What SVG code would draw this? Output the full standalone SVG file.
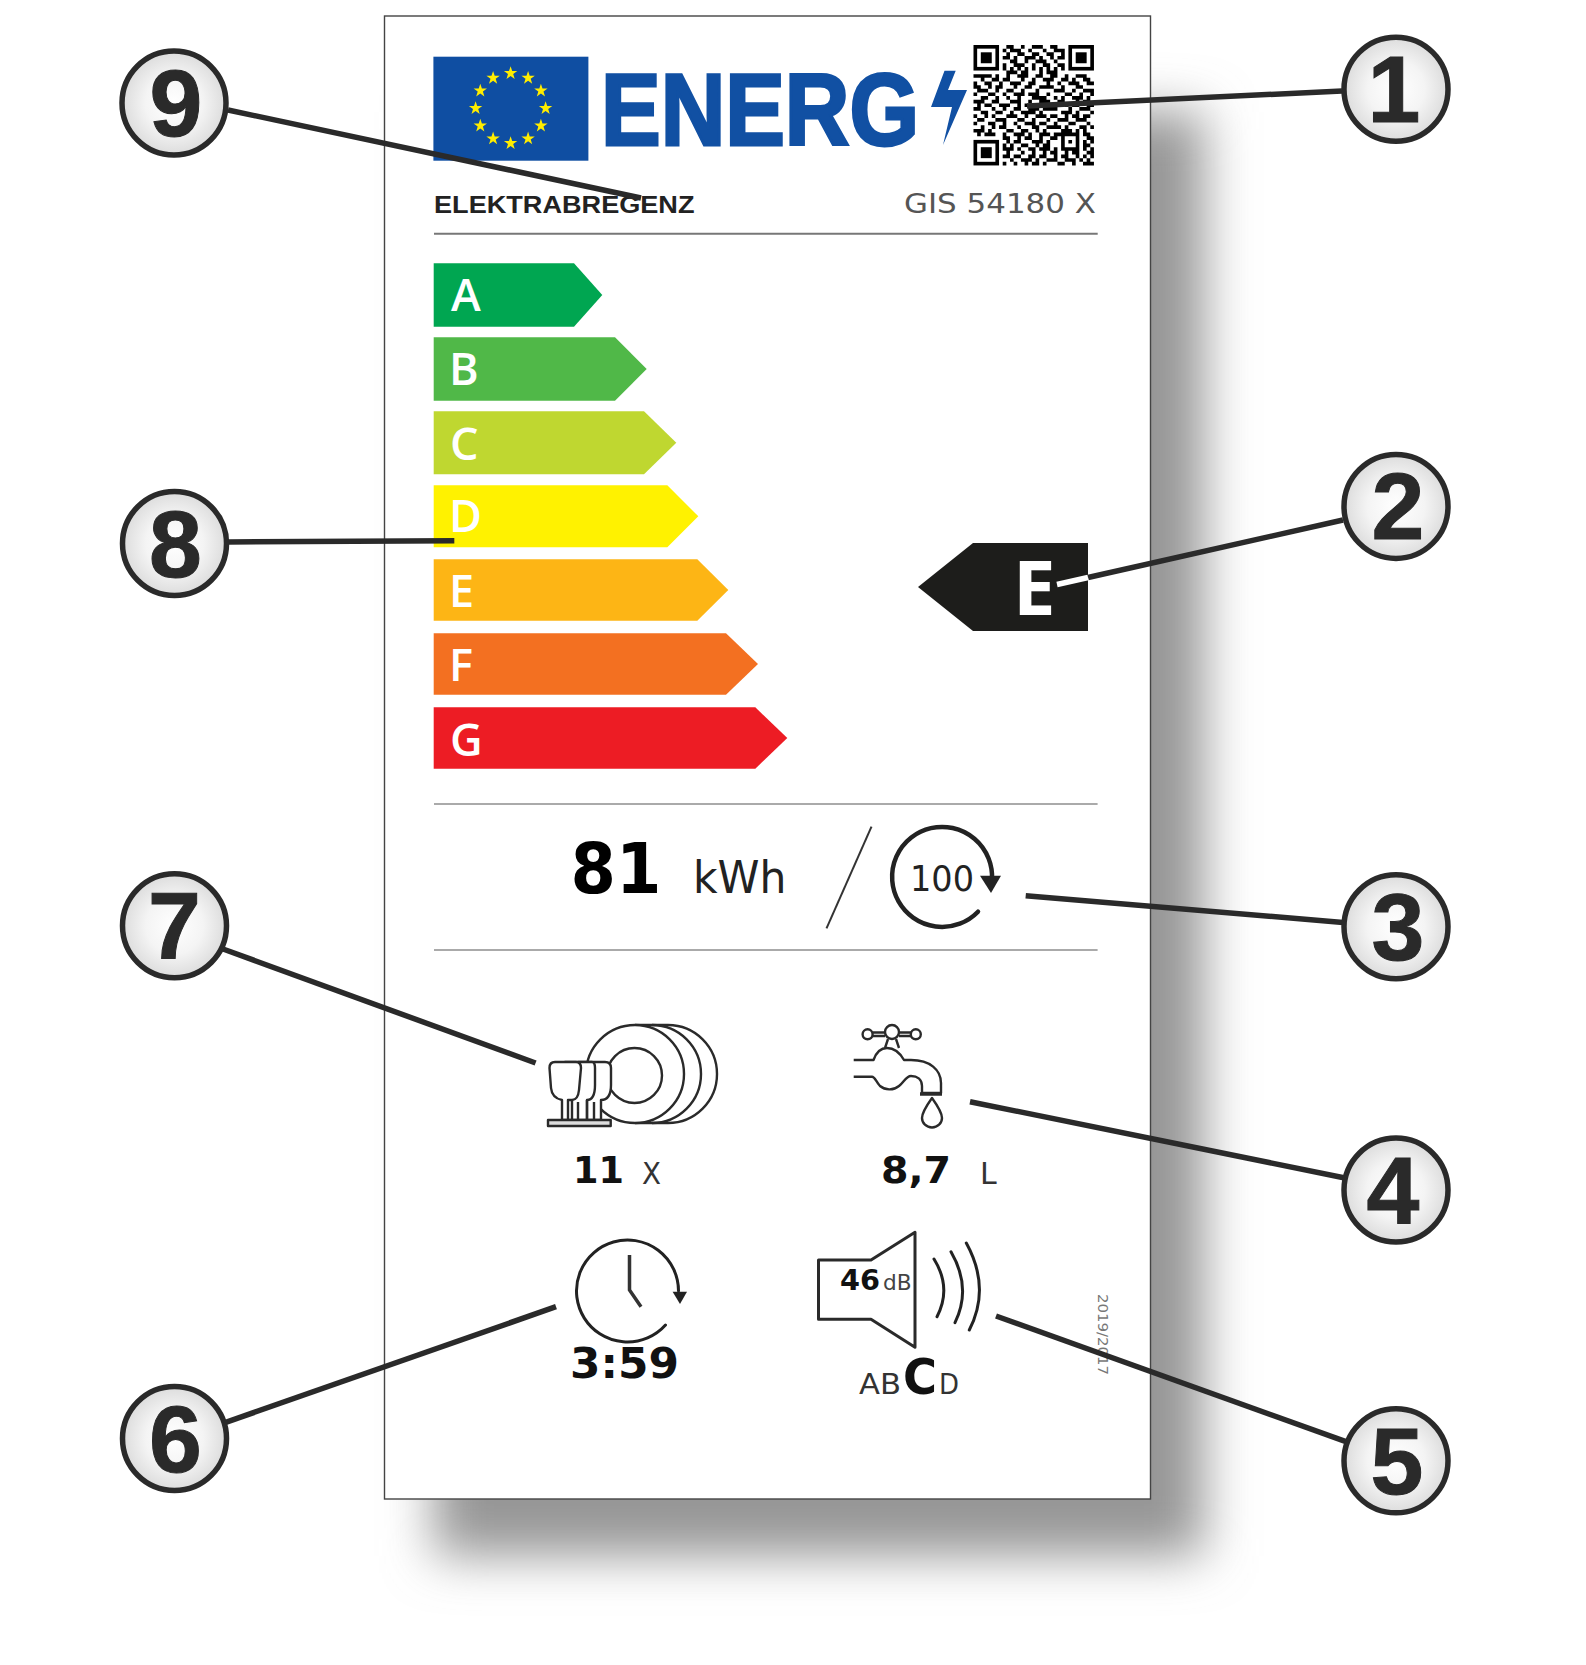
<svg xmlns="http://www.w3.org/2000/svg" xmlns:xlink="http://www.w3.org/1999/xlink" width="1586" height="1665" viewBox="0 0 1586 1665">
<style>
.dj{font-family:"DejaVu Sans",sans-serif}
.djb{font-family:"DejaVu Sans",sans-serif;font-weight:700}
.bar{font-family:"Open Sans",sans-serif;font-weight:600;font-size:45px;fill:#fff}
.num{font-family:"Liberation Sans",Arial,sans-serif;font-weight:700;font-size:95px;fill:#2a2a2a;stroke:#2a2a2a;stroke-width:1;text-anchor:middle}
.bub{fill:url(#bub);stroke:#2a2a2a;stroke-width:5.5}
.lead{stroke:#2a2a2a;stroke-width:5.5;fill:none}
.sep{stroke:#aaa;stroke-width:2}
.ico{fill:none;stroke:#222;stroke-width:3;stroke-linecap:round;stroke-linejoin:round}
.thin{fill:none;stroke:#2a2a2a;stroke-width:2.4;stroke-linejoin:round}
</style>
<defs>
<radialGradient id="bub"><stop offset="0" stop-color="#fff"/><stop offset=".55" stop-color="#f4f4f4"/><stop offset="1" stop-color="#dcdcdc"/></radialGradient>
<filter id="blur" x="-20%" y="-20%" width="140%" height="140%"><feGaussianBlur stdDeviation="25"/></filter>
<polygon id="star" fill="#ffed00" points="0,-7 1.6,-2.2 6.7,-2.2 2.6,.8 4.1,5.7 0,2.7 -4.1,5.7 -2.6,.8 -6.7,-2.2 -1.6,-2.2"/>
<g id="finder"><rect x=".5" y=".5" width="6" height="6" fill="none" stroke="#000" stroke-width="1"/><rect x="2" y="2" width="3" height="3" fill="#000"/></g>
</defs>
<rect width="1586" height="1665" fill="#fff"/>
<g id="label">
<rect id="shadow" x="434" y="112" width="770" height="1444" fill="#969696" filter="url(#blur)"/>
<rect id="sheet" x="384.5" y="16" width="766" height="1483" fill="#fff" stroke="#444" stroke-width="1.4"/>
</g>
<g id="flag">
<rect x="433.4" y="56.7" width="155" height="104" fill="#0f4ea2"/>
<use href="#star" x="510.6" y="73.3"/><use href="#star" x="528.1" y="78"/><use href="#star" x="540.9" y="90.8"/><use href="#star" x="545.6" y="108.3"/><use href="#star" x="540.9" y="125.8"/><use href="#star" x="528.1" y="138.6"/><use href="#star" x="510.6" y="143.3"/><use href="#star" x="493.1" y="138.6"/><use href="#star" x="480.3" y="125.8"/><use href="#star" x="475.6" y="108.3"/><use href="#star" x="480.3" y="90.8"/><use href="#star" x="493.1" y="78"/>
</g>
<g id="energy-logo">
<text x="601" y="145" font-family="Liberation Sans,Arial,sans-serif" font-weight="700" font-size="102" fill="#1150a3" stroke="#1150a3" stroke-width="3" textLength="318" lengthAdjust="spacingAndGlyphs">ENERG</text>
<polygon fill="#1150a3" points="944.5,70.7 955.7,70.7 948,90 967,90 943,145 952,107 931,107"/>
</g>
<g id="qr" transform="translate(973.5 45) scale(3.65)">
<use href="#finder"/><use href="#finder" x="26"/><use href="#finder" y="26"/>
<path transform="translate(0 .5)" fill="none" stroke="#000" stroke-width="1" d="M9 0h2M13 0h1M16 0h3M21 0h2M8 1h1M10 1h3M15 1h1M19 1h1M22 1h3M9 2h1M12 2h2M16 2h2M20 2h2M24 2h1M8 3h2M11 3h1M14 3h3M18 3h1M21 3h1M23 3h2M10 4h2M14 4h1M17 4h3M22 4h1M8 5h1M11 5h3M16 5h1M19 5h2M23 5h2M8 6h1M10 6h1M12 6h1M14 6h1M16 6h1M18 6h1M20 6h1M22 6h1M24 6h1M9 7h3M13 7h2M18 7h1M20 7h3M0 8h5M6 8h1M9 8h1M12 8h3M17 8h2M21 8h2M25 8h1M28 8h3M2 9h1M5 9h2M8 9h2M13 9h1M16 9h1M19 9h3M24 9h2M27 9h1M30 9h2M0 10h1M3 10h2M7 10h1M10 10h3M15 10h2M20 10h1M23 10h1M26 10h3M31 10h2M0 11h2M4 11h1M6 11h2M11 11h1M14 11h2M18 11h4M24 11h1M28 11h2M1 12h3M6 12h1M9 12h2M13 12h1M17 12h1M22 12h3M27 12h1M30 12h3M0 13h1M4 13h2M8 13h1M11 13h3M15 13h3M20 13h1M25 13h2M29 13h1M32 13h1M2 14h2M6 14h1M9 14h1M12 14h1M16 14h4M22 14h1M24 14h1M27 14h3M31 14h1M0 15h3M5 15h2M10 15h3M15 15h1M18 15h3M23 15h2M28 15h1M30 15h2M1 16h1M3 16h2M7 16h3M12 16h1M14 16h1M17 16h2M21 16h2M25 16h1M27 16h2M31 16h2M0 17h2M5 17h1M8 17h1M11 17h2M15 17h3M19 17h4M26 17h1M29 17h3M2 18h2M6 18h2M10 18h1M13 18h4M18 18h1M24 18h3M28 18h1M32 18h1M0 19h1M3 19h1M5 19h1M9 19h3M14 19h1M17 19h3M21 19h2M25 19h1M27 19h2M30 19h2M1 20h2M6 20h3M12 20h2M16 20h1M20 20h1M23 20h3M28 20h3M0 21h1M4 21h2M8 21h1M11 21h1M14 21h3M18 21h2M22 21h1M26 21h2M31 21h1M2 22h1M5 22h1M7 22h2M12 22h1M16 22h2M20 22h4M25 22h1M29 22h2M32 22h1M0 23h3M4 23h1M9 23h2M13 23h2M17 23h1M19 23h1M24 23h3M28 23h1M30 23h1M1 24h1M3 24h3M8 24h1M11 24h3M15 24h1M18 24h3M22 24h2M24 24h5M30 24h2M8 25h2M12 25h1M14 25h2M18 25h1M21 25h2M24 25h1M28 25h1M31 25h2M9 26h1M11 26h2M16 26h3M20 26h1M24 26h1M26 26h1M28 26h1M30 26h1M32 26h1M8 27h1M10 27h1M13 27h2M17 27h1M19 27h2M24 27h1M28 27h1M30 27h2M8 28h3M12 28h1M15 28h2M18 28h3M22 28h1M24 28h5M30 28h1M32 28h1M9 29h1M13 29h1M16 29h1M19 29h1M21 29h2M25 29h1M27 29h2M31 29h2M8 30h2M11 30h2M15 30h2M18 30h2M22 30h1M24 30h2M28 30h1M30 30h1M32 30h1M10 31h1M13 31h3M17 31h1M20 31h3M25 31h3M29 31h1M31 31h1M8 32h1M11 32h1M14 32h1M16 32h2M19 32h1M23 32h2M27 32h1M30 32h3"/>
</g>
<g id="supplier">
<text x="434" y="212.7" font-family="Liberation Sans,Arial,sans-serif" font-weight="700" font-size="24" fill="#222" textLength="260.5" lengthAdjust="spacingAndGlyphs">ELEKTRABREGENZ</text>
<text class="dj" x="904" y="213" font-size="27" fill="#555" textLength="192" lengthAdjust="spacingAndGlyphs">GIS 54180 X</text>
<line x1="434" y1="233.7" x2="1097.7" y2="233.7" stroke="#777" stroke-width="2"/>
</g>
<g id="scale">
<g id="bar-a"><polygon fill="#00a651" points="433.7,263.3 574,263.3 602.3,295 574,326.7 433.7,326.7"/><text class="bar" x="451" y="311">A</text></g>
<g id="bar-b"><polygon fill="#50b848" points="433.7,337.3 615,337.3 646.7,369 615,400.7 433.7,400.7"/><text class="bar" x="449" y="385">B</text></g>
<g id="bar-c"><polygon fill="#bfd730" points="433.7,411.3 644,411.3 676.3,442.8 644,474.3 433.7,474.3"/><text class="bar" x="450" y="460">C</text></g>
<g id="bar-d"><polygon fill="#fff200" points="433.7,485.3 667.3,485.3 698.3,516.3 667.3,547.3 433.7,547.3"/><text class="bar" x="449" y="532">D</text></g>
<g id="bar-e"><polygon fill="#fdb515" points="433.7,559.3 697.3,559.3 728.3,590 697.3,620.7 433.7,620.7"/><text class="bar" x="449" y="607">E</text></g>
<g id="bar-f"><polygon fill="#f37021" points="433.7,633.3 726,633.3 758,664 726,694.7 433.7,694.7"/><text class="bar" x="449" y="681">F</text></g>
<g id="bar-g"><polygon fill="#ed1c24" points="433.7,707.3 755.3,707.3 787.3,738 755.3,768.7 433.7,768.7"/><text class="bar" x="450" y="756">G</text></g>
</g>
<g id="rating"><polygon fill="#1d1d1b" points="918,587 973,543 1088,543 1088,631 973,631"/><text class="bar" x="1013" y="615" style="font-size:76px;font-weight:700">E</text></g>
<g id="consumption">
<line class="sep" x1="434" y1="804" x2="1097.6" y2="804"/><line class="sep" x1="434" y1="950" x2="1097.6" y2="950"/>
<text class="djb" x="570.4" y="892.7" font-size="70" fill="#000" textLength="91" lengthAdjust="spacingAndGlyphs">81</text>
<text class="dj" x="693" y="893.3" font-size="44" fill="#222" textLength="93.5" lengthAdjust="spacingAndGlyphs">kWh</text>
<line x1="871.5" y1="826.7" x2="826.5" y2="928.3" stroke="#333" stroke-width="2"/>
<path d="M978 911.7A50 50 0 1 1 992 880" fill="none" stroke="#222" stroke-width="4.5" stroke-linecap="round"/>
<polygon fill="#222" points="980,875.7 1001,875.7 991,893"/>
<text class="dj" x="910" y="890.7" font-size="35" fill="#222" textLength="64" lengthAdjust="spacingAndGlyphs">100</text>
</g>
<g id="place-settings">
<path class="thin" d="M635 1025H668A49 49 0 0 1 668 1123H635"/>
<path class="thin" d="M652 1025A49 49 0 0 1 652 1123"/>
<circle class="thin" cx="635" cy="1074" r="49" style="fill:#fff"/>
<circle class="thin" cx="634.5" cy="1075.5" r="27.5"/>
<path class="thin" style="fill:#fff" d="M578 1062H605Q611 1062 611 1068V1085Q611 1100 601 1100V1120H578Z"/>
<path class="thin" style="fill:#fff" d="M565 1062H592Q595 1062 595 1068V1085Q595 1100 587 1100V1120H565Z"/>
<path class="thin" style="fill:#fff" d="M555 1062H576Q581 1062 581 1068L579 1090Q578 1100 572 1100H568V1120H562V1100Q552 1098 551 1088L549.5 1068Q549.5 1062 555 1062Z"/>
<path class="thin" d="M572 1100V1120M578 1102V1120M587 1100V1120M594 1102V1120"/>
<rect class="thin" x="548" y="1120" width="62.7" height="6" style="fill:#ddd"/>
<text class="djb" x="573" y="1182.7" font-size="38" fill="#111" textLength="51" lengthAdjust="spacingAndGlyphs">11</text>
<text class="dj" x="642" y="1184" font-size="30" fill="#333" textLength="19" lengthAdjust="spacingAndGlyphs">X</text>
</g>
<g id="water">
<circle class="thin" cx="867.6" cy="1034.3" r="5"/><circle class="thin" cx="915.8" cy="1034.3" r="5"/><circle class="thin" cx="892" cy="1032" r="7"/>
<path class="thin" d="M872.5 1032.5H885M872.5 1036H885M899 1032.5H911M899 1036H911M888 1039L885 1048M896 1039L899 1048"/>
<path class="thin" d="M853.7 1060H873.5C876 1053 880 1048 887 1048C895 1048 900 1053 904 1060H911C930 1060 941 1070 941 1083V1093H922V1086C922 1079 917 1076 911 1076C906 1076 904 1082 899 1086C893 1091 885 1090 880 1086C876 1082 875 1076.7 872 1076.7H853.7"/>
<path class="thin" d="M920 1094H942" style="stroke-width:3.5"/>
<path class="thin" d="M932 1098Q942 1112 942 1118A10 9.5 0 0 1 922 1118Q922 1112 932 1098Z"/>
<text class="djb" x="881" y="1182.7" font-size="38" fill="#111" textLength="70" lengthAdjust="spacingAndGlyphs">8,7</text>
<text class="dj" x="980" y="1184" font-size="30" fill="#333">L</text>
</g>
<g id="duration">
<path d="M665.5 1325A51 51 0 1 1 678.5 1291" fill="none" stroke="#222" stroke-width="3" stroke-linecap="round"/>
<polygon fill="#222" points="672.6,1291.7 687,1291.7 680,1304"/>
<path d="M629.5 1255V1290L641 1306.7" fill="none" stroke="#333" stroke-width="3.5"/>
<text class="djb" x="570" y="1377.7" font-size="43" fill="#111" textLength="109" lengthAdjust="spacingAndGlyphs">3:59</text>
</g>
<g id="noise">
<polygon class="thin" style="stroke-width:3" points="818.5,1260 871,1260 915,1232.3 915,1347.3 871,1319.3 818.5,1319.3"/>
<text class="djb" x="840" y="1290" font-size="29" fill="#111" textLength="40" lengthAdjust="spacingAndGlyphs">46</text>
<text class="dj" x="883" y="1290" font-size="21" fill="#444" textLength="28.6" lengthAdjust="spacingAndGlyphs">dB</text>
<path class="ico" d="M934 1259Q952 1288 937 1316.7M951 1251.7Q972 1288 955 1322.7M966.3 1243Q991 1288 969.3 1330"/>
<text class="dj" x="859" y="1394.3" font-size="28" fill="#333" textLength="42" lengthAdjust="spacingAndGlyphs">AB</text>
<text class="djb" x="903" y="1394.3" font-size="50" fill="#111" textLength="34" lengthAdjust="spacingAndGlyphs">C</text>
<text class="dj" x="939" y="1394.3" font-size="28" fill="#333" textLength="20" lengthAdjust="spacingAndGlyphs">D</text>
</g>
<text id="regulation" class="dj" transform="translate(1098 1294) rotate(90)" font-size="14" fill="#777" textLength="81" lengthAdjust="spacingAndGlyphs">2019/2017</text>
<g id="connectors">
<line class="lead" x1="1027" y1="106" x2="1342" y2="91"/>
<line class="lead" x1="1088" y1="577.5" x2="1343" y2="520"/>
<line class="lead" style="stroke:#fff" x1="1057" y1="584.5" x2="1088" y2="577.5"/>
<line class="lead" x1="1025.7" y1="895.7" x2="1343" y2="922.5"/>
<line class="lead" x1="970" y1="1101.7" x2="1345" y2="1178"/>
<line class="lead" x1="996" y1="1316" x2="1346" y2="1441.7"/>
<line class="lead" x1="556" y1="1306.7" x2="225" y2="1422.6"/>
<line class="lead" x1="535.6" y1="1063" x2="223" y2="949"/>
<line class="lead" x1="454.3" y1="540.7" x2="228" y2="542"/>
<line class="lead" x1="641" y1="198" x2="228" y2="110"/>
</g>
<g id="callout-1"><circle class="bub" cx="1396" cy="89.2" r="52"/><text class="num" x="1394" y="122.2">1</text></g>
<g id="callout-2"><circle class="bub" cx="1396" cy="506.4" r="52"/><text class="num" x="1398" y="539.4">2</text></g>
<g id="callout-3"><circle class="bub" cx="1396" cy="926.8" r="52"/><text class="num" x="1398" y="959.8">3</text></g>
<g id="callout-4"><circle class="bub" cx="1396" cy="1190" r="52"/><text class="num" x="1393" y="1223">4</text></g>
<g id="callout-5"><circle class="bub" cx="1396" cy="1460.8" r="52"/><text class="num" x="1397" y="1493.8">5</text></g>
<g id="callout-6"><circle class="bub" cx="174.5" cy="1438.5" r="52"/><text class="num" x="175.5" y="1471.5">6</text></g>
<g id="callout-7"><circle class="bub" cx="174.5" cy="925.7" r="52"/><text class="num" x="174.5" y="958.7">7</text></g>
<g id="callout-8"><circle class="bub" cx="174.5" cy="543.5" r="52"/><text class="num" x="175.5" y="576.5">8</text></g>
<g id="callout-9"><circle class="bub" cx="174" cy="103" r="52"/><text class="num" x="176" y="136">9</text></g>
</svg>
